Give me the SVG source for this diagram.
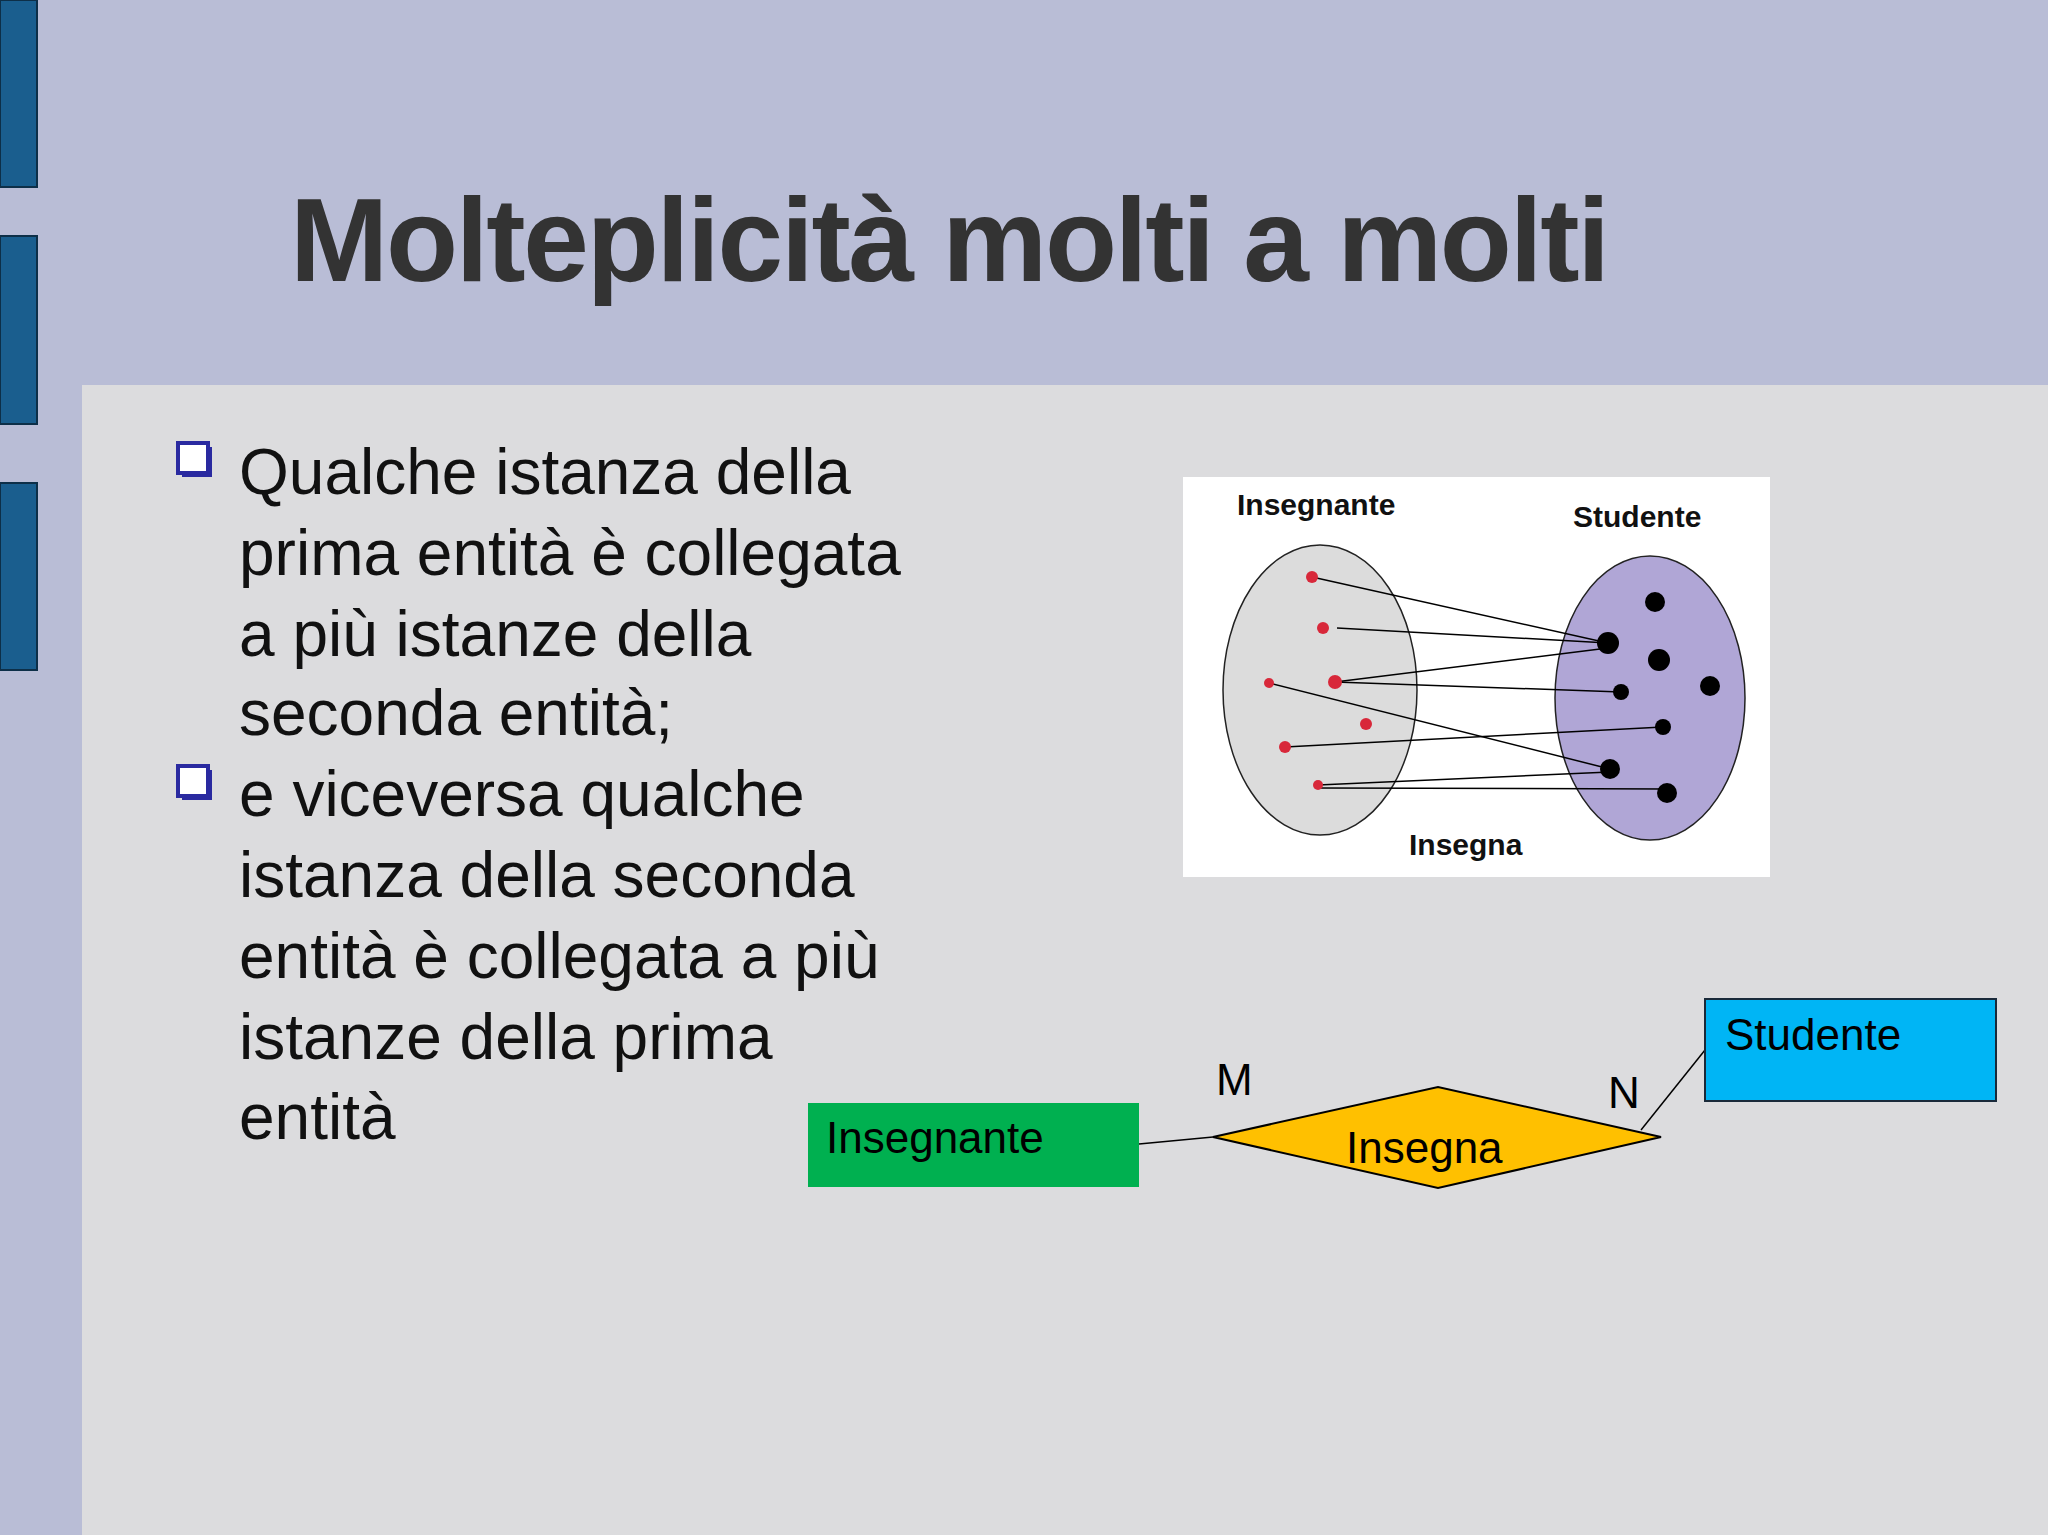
<svg xmlns="http://www.w3.org/2000/svg" width="2048" height="1535" viewBox="0 0 2048 1535">
<style>
.t{font-family:"Liberation Sans",Arial,sans-serif}
.b{font-family:"Liberation Sans",Arial,sans-serif;font-size:64px;fill:#111}
.lab{font-family:"Liberation Sans Narrow","Liberation Sans",Arial,sans-serif;font-weight:bold;font-size:30px;fill:#111}
.bar{fill:#1a5e8e;stroke:#0d2f48;stroke-width:2}
.rd{fill:#d8283a}
.bk{fill:#000}
.ln{stroke:#000;stroke-width:1.5;fill:none}
</style>
<rect x="0" y="0" width="2048" height="1535" fill="#b9bdd6"/>
<rect x="82" y="385" width="1966" height="1150" fill="#dcdcde"/>
<rect class="bar" x="0" y="0" width="37" height="187"/>
<rect class="bar" x="0" y="236" width="37" height="188"/>
<rect class="bar" x="0" y="483" width="37" height="187"/>
<text class="t" x="290" y="281" font-size="118" font-weight="bold" fill="#333" textLength="1320">Molteplicità molti a molti</text>
<g id="bullets">
<rect x="182" y="447" width="30" height="30" fill="#2a2aa0"/><rect x="178" y="443" width="30" height="30" fill="#fff" stroke="#2a2aa0" stroke-width="4"/>
<rect x="182" y="770" width="30" height="30" fill="#2a2aa0"/><rect x="178" y="766" width="30" height="30" fill="#fff" stroke="#2a2aa0" stroke-width="4"/>
<text class="b" x="239" y="494">Qualche istanza della</text>
<text class="b" x="239" y="575">prima entità è collegata</text>
<text class="b" x="239" y="656">a più istanze della</text>
<text class="b" x="239" y="735">seconda entità;</text>
<text class="b" x="239" y="816">e viceversa qualche</text>
<text class="b" x="239" y="897">istanza della seconda</text>
<text class="b" x="239" y="978">entità è collegata a  più</text>
<text class="b" x="239" y="1059">istanze della prima</text>
<text class="b" x="239" y="1139">entità</text>
</g>
<g id="inset">
<rect x="1183" y="477" width="587" height="400" fill="#fff"/>
<text class="lab" x="1237" y="515">Insegnante</text>
<text class="lab" x="1573" y="527">Studente</text>
<text class="lab" x="1409" y="855">Insegna</text>
<ellipse cx="1320" cy="690" rx="97" ry="145" fill="#dcdcdc" stroke="#222" stroke-width="1.5"/>
<ellipse cx="1650" cy="698" rx="95" ry="142" fill="#b0a6d6" stroke="#222" stroke-width="1.5"/>
<g class="ln">
<line x1="1312" y1="577" x2="1608" y2="643"/>
<line x1="1337" y1="628" x2="1608" y2="643"/>
<line x1="1335" y1="682" x2="1608" y2="648"/>
<line x1="1335" y1="682" x2="1621" y2="692"/>
<line x1="1269" y1="683" x2="1610" y2="769"/>
<line x1="1285" y1="747" x2="1663" y2="727"/>
<line x1="1318" y1="785" x2="1610" y2="772"/>
<line x1="1318" y1="788" x2="1667" y2="789"/>
</g>
<circle class="rd" cx="1312" cy="577" r="6"/>
<circle class="rd" cx="1323" cy="628" r="6"/>
<circle class="rd" cx="1269" cy="683" r="5"/>
<circle class="rd" cx="1335" cy="682" r="7"/>
<circle class="rd" cx="1366" cy="724" r="6"/>
<circle class="rd" cx="1285" cy="747" r="6"/>
<circle class="rd" cx="1318" cy="785" r="5"/>
<circle class="bk" cx="1655" cy="602" r="10"/>
<circle class="bk" cx="1608" cy="643" r="11"/>
<circle class="bk" cx="1659" cy="660" r="11"/>
<circle class="bk" cx="1710" cy="686" r="10"/>
<circle class="bk" cx="1621" cy="692" r="8"/>
<circle class="bk" cx="1663" cy="727" r="8"/>
<circle class="bk" cx="1610" cy="769" r="10"/>
<circle class="bk" cx="1667" cy="793" r="10"/>
</g>
<g id="connectors" stroke="#000" stroke-width="1.5">
<line x1="1139" y1="1144" x2="1213" y2="1137"/>
<line x1="1641" y1="1130" x2="1705" y2="1050"/>
</g>
<g id="Insegnante">
<rect x="808" y="1103" width="331" height="84" fill="#00b050"/>
<text class="t" x="826" y="1153" font-size="44" fill="#000">Insegnante</text>
</g>
<g id="Insegna">
<polygon points="1213,1137 1438,1087 1661,1137 1438,1188" fill="#ffc000" stroke="#000" stroke-width="2"/>
<text class="t" x="1346" y="1163" font-size="44" fill="#000">Insegna</text>
</g>
<g id="Studente">
<rect x="1705" y="999" width="291" height="102" fill="#00b5f5" stroke="#1a2a3a" stroke-width="2"/>
<text class="t" x="1725" y="1050" font-size="44" fill="#000">Studente</text>
</g>
<text class="t" x="1216" y="1095" font-size="44" fill="#000">M</text>
<text class="t" x="1608" y="1108" font-size="44" fill="#000">N</text>
</svg>
